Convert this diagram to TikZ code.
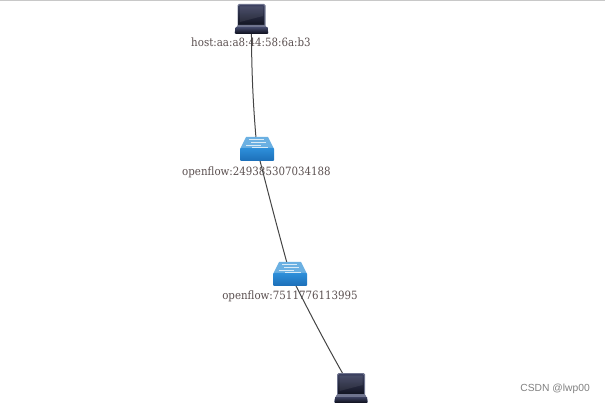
\documentclass[tikz,border=0pt]{standalone}
\usepackage{fontspec}
\newfontfamily\labfont{DejaVu Serif Condensed}
\newfontfamily\wmfont{Liberation Sans}
\usetikzlibrary{calc}
\definecolor{labelc}{HTML}{5A4F4F}
\definecolor{linkc}{HTML}{444444}
\definecolor{topc}{HTML}{C8C8C8}
\definecolor{lapA}{HTML}{10121F}
\definecolor{lapB}{HTML}{3C4160}
\definecolor{lapE}{HTML}{6F748E}
\definecolor{swA}{HTML}{1C6FB8}
\definecolor{swB}{HTML}{2E8FDA}
\definecolor{swC}{HTML}{6BB0E2}
\tikzset{
  x=1pt,y=-1pt,
  anchorbox/.style={inner sep=0pt,outer sep=0pt,minimum width=#1},
  lapbox/.style={anchorbox=33pt,minimum height=30pt},
  swbox/.style={anchorbox=34pt,minimum height=24pt},
  lab/.style={inner sep=0pt,text=labelc,font=\labfont\fontsize{11.4}{13}\selectfont},
  link/.style={draw=linkc,line width=1pt},
  laptop/.pic={
    \fill[lapE,rounded corners=1.5pt] (-14,-15) rectangle (14,8);
    \shade[top color=lapB,bottom color=lapA,rounded corners=1pt] (-12.8,-13.8) rectangle (12.8,7);
    \fill[white,opacity=.08] (-11.5,-12.5) -- (11.5,-12.5) -- (11.5,-3) -- (-11.5,3) -- cycle;
    \fill[lapE,rounded corners=1pt] (-14,6) -- (14,6) -- (16.8,12) -- (16.8,15) -- (-16.8,15) -- (-16.8,12) -- cycle;
    \shade[top color=lapB,bottom color=lapA] (-16,9) rectangle (16,14.5);
  },
  switchicon/.pic={
    \fill[swC] (-11,-12) -- (11,-12) -- (17,0) -- (-17,0) -- cycle;
    \shade[top color=swB,bottom color=swA,rounded corners=1pt] (-17,-1) rectangle (17,12);
    \draw[white,line width=.5pt,opacity=.75] (-8,-9.5) -- (7,-9.5) (-6,-7) -- (9,-7) (-11,-4) -- (4,-4) (-5,-2) -- (11,-2);
  }
}
\begin{document}
\begin{tikzpicture}
\useasboundingbox (0,0) rectangle (605,403);
\fill[topc] (0,0) rectangle (605,1);
\node[lapbox] (h1) at (251.5,19) {};
\node[swbox] (s1) at (257,149) {};
\node[swbox] (s2) at (290,274) {};
\node[lapbox] (h2) at (351,388) {};
\node[lab] (lh1) at (251,42) {host:aa:a8:44:58:6a:b3};
\node[lab] (ls1) at (256.5,172) {openflow:249385307034188};
\node[lab] (ls2) at (290,296.5) {openflow:7511776113995};
\node[anchor=east,inner sep=0pt,text=black!50,font=\wmfont\fontsize{10.3}{12}\selectfont] (wm) at (590,389) {CSDN @lwp00};
\draw[link] (h1.center) .. controls ($(h1.center)!.4!(s1.center)+(-2.5,0)$) and ($(h1.center)!.7!(s1.center)+(-2,0)$) .. (s1.center);
\draw[link] (s1.center) .. controls ($(s1.center)!.4!(s2.center)+(-.5,0)$) and ($(s1.center)!.7!(s2.center)+(-.5,0)$) .. (s2.center);
\draw[link] (s2.center) .. controls ($(s2.center)!.4!(h2.center)+(-1.5,0)$) and ($(s2.center)!.7!(h2.center)+(-1.5,0)$) .. (h2.center);
\pic at (h1) {laptop};
\pic at (s1) {switchicon};
\pic at (s2) {switchicon};
\pic at (h2) {laptop};
\end{tikzpicture}
\end{document}
